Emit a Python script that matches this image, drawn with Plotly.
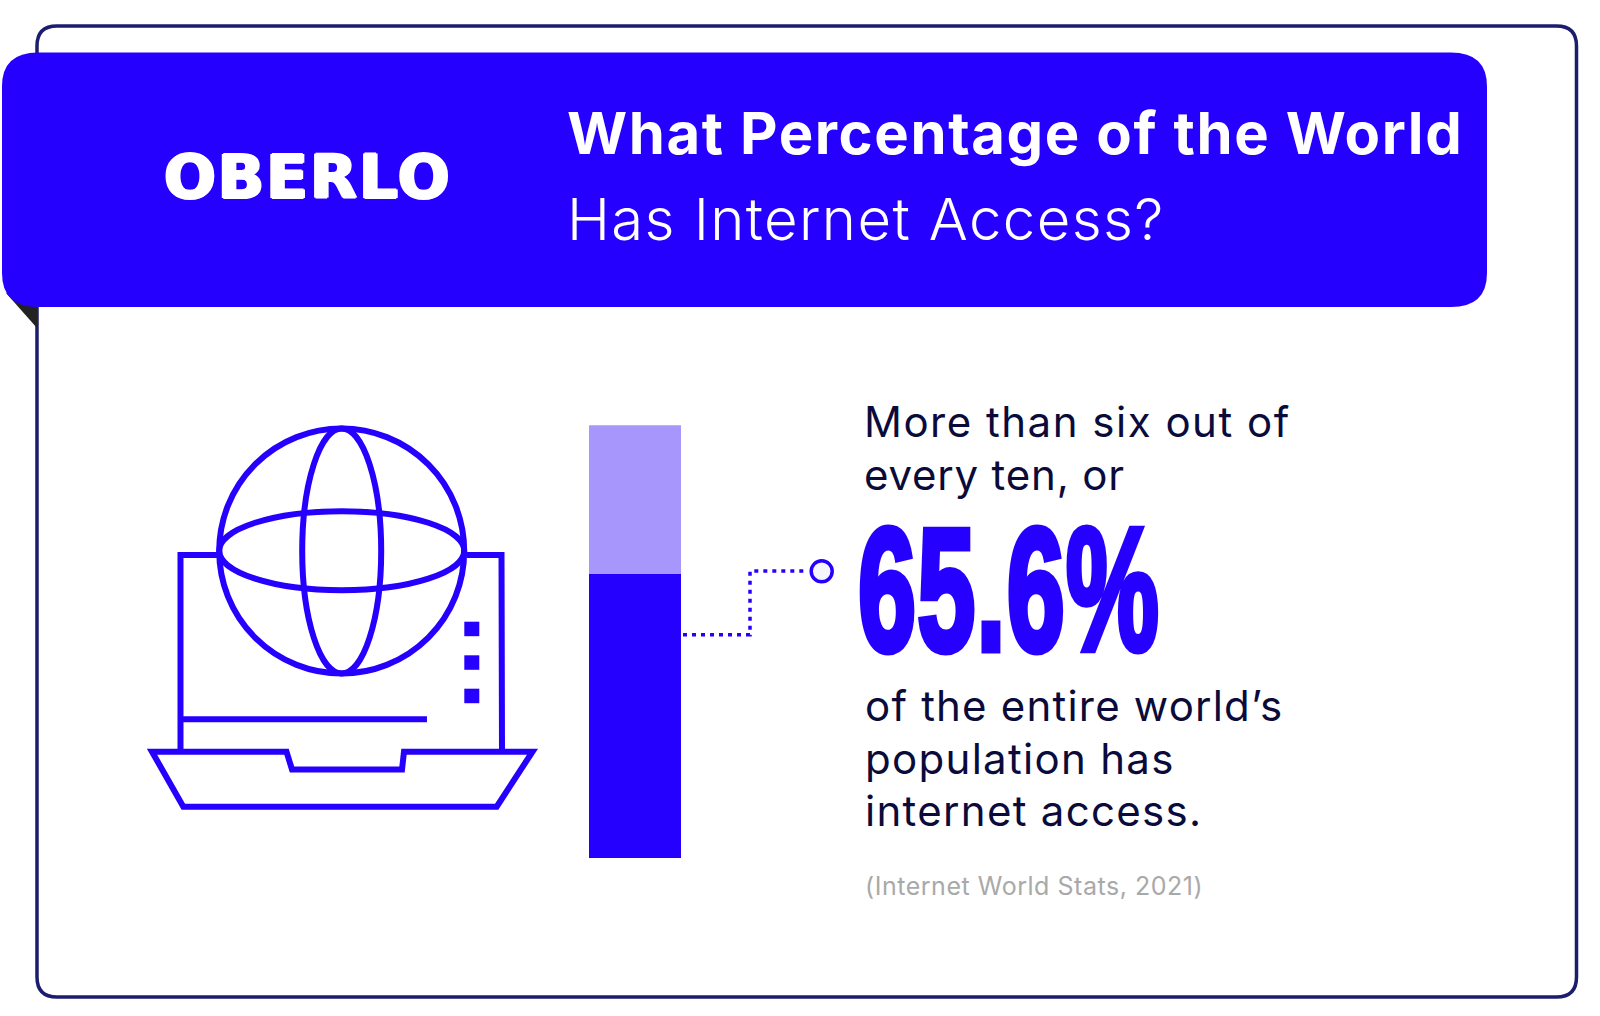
import json
import plotly.graph_objects as go

W, H = 1600, 1016
BLUE = "#2600ff"
LIGHT = "#a797fd"
INK = "#0b0b3b"
NAVY = "#1d1d6d"

categories = ["World population"]
with_access = [65.6]
without_access = [34.4]
series_names = ["Has internet access", "No internet access"]

title_bold = "What Percentage of the World"
title_light = "Has Internet Access?"
logo = "OBERLO"
lead_lines = ["More than six out of", "every ten, or"]
big_number = "65.6%"
tail_lines = ["of the entire world’s", "population has", "internet access."]
source = "(Internet World Stats, 2021)"


def px(x):
    return x / W


def py(y):
    return 1 - y / H


def P(x, y):
    return f"{px(x):.5f} {py(y):.5f}"


def rounded(x0, y0, x1, y1, r, ry=None):
    ry = ry or r
    return (
        f"M {P(x0 + r, y0)} L {P(x1 - r, y0)} Q {P(x1, y0)} {P(x1, y0 + ry)} "
        f"L {P(x1, y1 - ry)} Q {P(x1, y1)} {P(x1 - r, y1)} "
        f"L {P(x0 + r, y1)} Q {P(x0, y1)} {P(x0, y1 - ry)} "
        f"L {P(x0, y0 + ry)} Q {P(x0, y0)} {P(x0 + r, y0)} Z"
    )


def poly(points, close=False):
    s = "M " + " L ".join(P(*p) for p in points)
    return s + (" Z" if close else "")


shapes = []


def add_path(path, color=BLUE, width=6, fill=None):
    shapes.append(dict(
        type="path", xref="paper", yref="paper", path=path,
        line=dict(color=color, width=width) if width else dict(width=0),
        fillcolor=fill or "rgba(0,0,0,0)",
    ))


def add_oval(cx, cy, rx, ry, color=BLUE, width=6, fill=None):
    shapes.append(dict(
        type="circle", xref="paper", yref="paper",
        x0=px(cx - rx), x1=px(cx + rx), y0=py(cy + ry), y1=py(cy - ry),
        line=dict(color=color, width=width),
        fillcolor=fill or "rgba(0,0,0,0)",
    ))


# frame, fold and banner
add_path(rounded(37, 26, 1576.5, 997, 20), color=NAVY, width=3.5)
add_path(poly([(6, 293), (37, 328), (37, 300)], True), width=0, fill="#222222")
add_path(rounded(2, 52.5, 1487, 307, 36, 34), width=0, fill=BLUE)

# laptop and globe
add_path(poly([(217, 555), (180.5, 555), (180.5, 752)]))
add_path(poly([(467, 555), (501.5, 555), (502, 752)]))
add_path(poly([(180.5, 719.3), (427, 719.3)]))
add_path(poly([(152, 751.7), (286.5, 751.7), (292, 769.5), (402, 769.5),
               (404, 751.7), (532.5, 751.7), (496.7, 806.7), (183.3, 806.7)], True))
add_oval(341.7, 551, 122.5, 122.5)
add_oval(341.7, 551, 39.5, 122.5)
add_oval(341.7, 550.7, 122.5, 39.5)
for top in (621.7, 655.3, 688.7):
    add_path(poly([(464.3, top), (479.3, top), (479.3, top + 14.5), (464.3, top + 14.5)], True),
             width=0, fill=BLUE)

# connector
add_path(poly([(683, 634.7), (750, 634.7), (750, 571), (805, 571)]), width=3.5)
shapes[-1]["line"]["dash"] = "4px,5px"
add_oval(821.7, 571.3, 10.5, 10.5, width=3.5, fill="#f5f5fb")


def text(s, x, baseline, size, color, family="Inter", weight=400, shadow=None):
    font = dict(family=family, size=size, color=color, weight=weight)
    if shadow:
        font["shadow"] = shadow
    return dict(
        xref="paper", yref="paper", x=px(x), y=py(baseline + size * 0.27),
        text=s, showarrow=False, xanchor="left", yanchor="bottom",
        align="left", font=font, borderpad=0, borderwidth=0,
    )


annotations = [
    text(logo, 164, 195.5, 61, "white", "DejaVu Sans", 700,
         "1.5px 0 0 white, -1.5px 0 0 white, 0 1px 0 white, 0 -1px 0 white"),
    text(title_bold, 567, 152.5, 58, "white", "Inter", 700),
    text(title_light, 567, 238, 58, "white", "Inter", 300),
    text(lead_lines[0], 864, 436, 42, INK),
    text(lead_lines[1], 864, 488.5, 42, INK),
    text(big_number, 858, 640, 174, BLUE, "Liberation Sans", 700),
    text(tail_lines[0], 865, 720, 42, INK),
    text(tail_lines[1], 865, 773, 42, INK),
    text(tail_lines[2], 865, 825, 42, INK),
    text(source, 865, 894, 25, "#a9a9a9"),
]

fig = go.Figure()
fig.add_bar(x=categories, y=with_access, name=series_names[0],
            marker=dict(color=BLUE, line=dict(width=0)))
fig.add_bar(x=categories, y=without_access, name=series_names[1],
            marker=dict(color=LIGHT, line=dict(width=0)))

fig.update_layout(
    width=W, height=H, margin=dict(l=0, r=0, t=0, b=0, pad=0),
    paper_bgcolor="white", plot_bgcolor="rgba(0,0,0,0)",
    barmode="stack", bargap=0, showlegend=False,
    shapes=shapes, annotations=annotations,
    xaxis=dict(visible=False, domain=[px(588.8), px(681.2)], range=[-0.5, 0.5]),
    yaxis=dict(visible=False, domain=[py(858.3), py(425.3)], range=[0, 100]),
)

tracking = {
    logo: 2, title_bold: 1.6, title_light: 1.4,
    lead_lines[0]: 1.5, lead_lines[1]: 0.8,
    tail_lines[0]: 1.2, tail_lines[1]: 1.3, tail_lines[2]: 1.3,
    source: 0.53, big_number: 2,
}
finish = """
document.body.style.margin = '0';
var tracking = %s;
document.querySelectorAll('.annotation-text').forEach(function (t) {
  var s = t.textContent;
  if (tracking[s]) { t.style.letterSpacing = tracking[s] + 'px'; }
  if (s === %s) {
    var x = parseFloat(t.getAttribute('x'));
    t.setAttribute('transform', 'translate(' + x + ' 0) scale(0.6 1) translate(' + (-x) + ' 0)');
    t.style.stroke = '%s';
    t.style.strokeWidth = '7px';
    t.style.strokeLinejoin = 'miter';
  }
});
""" % (json.dumps(tracking, ensure_ascii=False), json.dumps(big_number), BLUE)
fig.write_html("out.html", post_script=finish, config=dict(displayModeBar=False))
